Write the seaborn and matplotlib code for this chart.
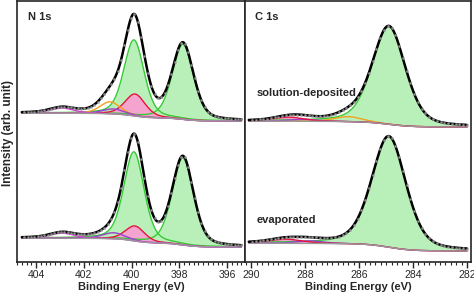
import numpy as np
import pandas as pd
import matplotlib.pyplot as plt
from matplotlib.ticker import MultipleLocator
import seaborn as sns

# fit components: centre (eV), height (arb.), fwhm (eV)
# N 1s, solution-deposited
n_sol_comp = ["green", "green", "red", "orange", "purple", "magenta"]
n_sol_center = [399.9, 397.85, 399.85, 400.9, 400.75, 402.9]
n_sol_height = [76, 75, 22, 12, 5, 5]
n_sol_fwhm = [1.0, 1.05, 1.0, 1.0, 1.1, 1.2]
n_sol_bg = [141, 149]          # background at low / high binding energy

# N 1s, evaporated
n_eva_comp = ["green", "green", "red", "purple", "magenta"]
n_eva_center = [399.9, 397.85, 399.85, 400.75, 402.9]
n_eva_height = [89, 87, 15, 6, 5]
n_eva_fwhm = [1.0, 1.05, 0.95, 1.1, 1.2]
n_eva_bg = [15, 24]

# C 1s, solution-deposited
c_sol_comp = ["green", "orange", "purple", "red"]
c_sol_center = [284.9, 286.4, 288.0, 288.6]
c_sol_height = [98, 5, 2, 4]
c_sol_fwhm = [1.45, 1.2, 1.2, 1.3]
c_sol_bg = [135, 141]

# C 1s, evaporated
c_eva_comp = ["green", "purple", "red"]
c_eva_center = [284.9, 287.8, 288.7]
c_eva_height = [111, 2.5, 4]
c_eva_fwhm = [1.5, 1.2, 1.4]
c_eva_bg = [11, 19]

n_ticks = [404, 402, 400, 398, 396]
c_ticks = [290, 288, 286, 284, 282]

line_col = {"green": "#35c935", "red": "#e5123f", "orange": "#f3a21c",
            "purple": "#9a40d0", "magenta": "#d040d0"}
fill_col = {"green": "#b9f0b9", "red": "#f5a3cf"}

sns.set_style("ticks")
plt.rcParams["font.family"] = ["Liberation Sans", "DejaVu Sans"]


def pvoigt(E, c, h, w, m=0.35):
    g = np.exp(-4 * np.log(2) * (E - c) ** 2 / w ** 2)
    l = 1 / (1 + 4 * (E - c) ** 2 / w ** 2)
    return h * ((1 - m) * g + m * l)


def draw_spectrum(ax, E, comp, center, height, fwhm, bg):
    peaks = [pvoigt(E, c, h, w) for c, h, w in zip(center, height, fwhm)]
    total = np.sum(peaks, axis=0)
    # shirley-like step background
    cum = np.cumsum(total)
    back = bg[0] + (bg[1] - bg[0]) * cum / cum[-1]
    for name, p in zip(comp, peaks):
        if name in fill_col:
            ax.fill_between(E, back, back + p, color=fill_col[name], lw=0, zorder=1)
    for name, p in zip(comp, peaks):
        sns.lineplot(x=E, y=back + p, ax=ax, color=line_col[name], lw=1,
                     estimator=None, sort=False, legend=False, zorder=2)
    sns.lineplot(x=E, y=back, ax=ax, color="#999999", lw=1, estimator=None,
                 sort=False, legend=False, zorder=3)
    env = back + total
    sns.lineplot(x=E, y=env, ax=ax, color="black", lw=1.8, estimator=None,
                 sort=False, legend=False, zorder=4)
    pts = pd.DataFrame({"E": E[::7], "I": env[::7]})
    sns.scatterplot(data=pts, x="E", y="I", ax=ax, s=3, marker="o",
                    facecolor="#bdbdbd", edgecolor="#808080", linewidth=0.3,
                    alpha=0.75, zorder=5)


fig = plt.figure(figsize=(4.74, 2.96), dpi=100)
ax1 = fig.add_axes([17 / 474, 34 / 296, 228 / 474, 261 / 296])
ax2 = fig.add_axes([245 / 474, 34 / 296, 226 / 474, 261 / 296])

En = np.linspace(395.4, 404.6, 461)
Ec = np.linspace(282.0, 290.1, 406)
draw_spectrum(ax1, En, n_sol_comp, n_sol_center, n_sol_height, n_sol_fwhm, n_sol_bg)
draw_spectrum(ax1, En, n_eva_comp, n_eva_center, n_eva_height, n_eva_fwhm, n_eva_bg)
draw_spectrum(ax2, Ec, c_sol_comp, c_sol_center, c_sol_height, c_sol_fwhm, c_sol_bg)
draw_spectrum(ax2, Ec, c_eva_comp, c_eva_center, c_eva_height, c_eva_fwhm, c_eva_bg)

for ax, lims, ticks in ((ax1, (404.8, 395.25), n_ticks), (ax2, (290.24, 281.85), c_ticks)):
    ax.set_xlim(*lims)
    ax.set_ylim(0, 261)
    ax.set_yticks([])
    ax.set_xticks(ticks)
    ax.xaxis.set_minor_locator(MultipleLocator(0.2))
    ax.tick_params(axis="x", which="major", length=4, width=1, labelsize=7.5, pad=2)
    ax.tick_params(axis="x", which="minor", length=2.5, width=0.8)
    ax.set_xlabel("Binding Energy (eV)", fontsize=8, fontweight="bold", labelpad=1)
    ax.set_ylabel("")
    for s in ax.spines.values():
        s.set_visible(True)
        s.set_linewidth(1.2)

ax1.text(0.048, 0.94, "N 1s", transform=ax1.transAxes, fontsize=8,
         fontweight="bold", va="center")
ax2.text(0.044, 0.94, "C 1s", transform=ax2.transAxes, fontsize=8,
         fontweight="bold", va="center")
ax2.text(0.053, 0.647, "solution-deposited", transform=ax2.transAxes,
         fontsize=8, fontweight="bold", va="center")
ax2.text(0.053, 0.161, "evaporated", transform=ax2.transAxes,
         fontsize=8, fontweight="bold", va="center")
fig.text(8 / 474, (296 - 133) / 296, "Intensity (arb. unit)", rotation=90,
         fontsize=8.5, fontweight="bold", ha="center", va="center")

fig.savefig("out.png", dpi=100)
